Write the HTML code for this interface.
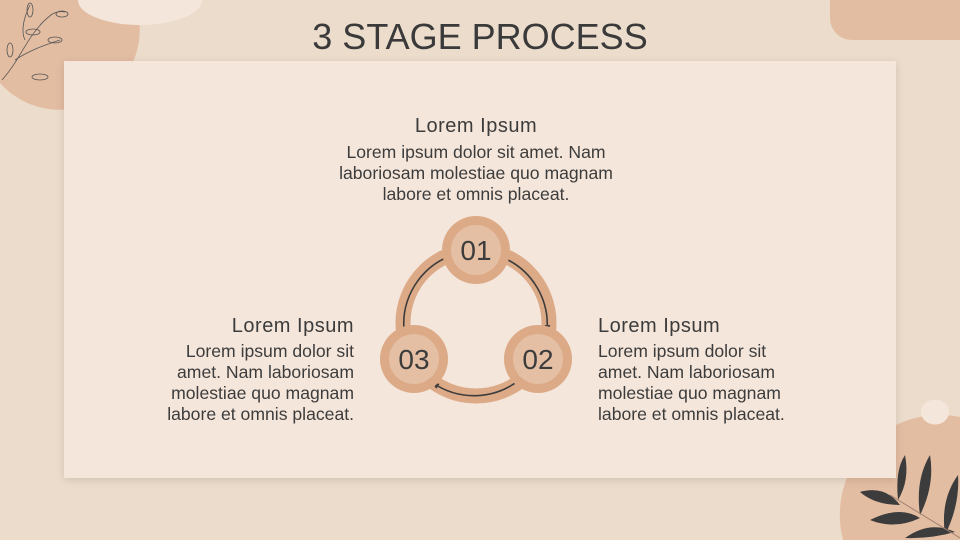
<!DOCTYPE html>
<html><head><meta charset="utf-8"><style>
html,body{margin:0;padding:0;width:960px;height:540px;overflow:hidden}
#w{position:relative;width:960px;height:540px;overflow:hidden;background:#ecdccb;font-family:"Liberation Sans",sans-serif}
.a{position:absolute}
.t{color:#3c3c3c}
h1{position:absolute;margin:0;top:16px;left:0;width:960px;text-align:center;font-weight:normal;font-size:36px;color:#3a3a3a}
.hd{font-size:20px;letter-spacing:0.5px}
.bd{font-size:17.6px;line-height:21px}
</style></head><body><div id="w">
<svg class="a" style="left:0;top:0" width="960" height="540">
<path d="M0 0 L134 0 A80 80 0 0 1 0 83 Z" fill="#e3bda2"/>
<path d="M78 0 L202 0 A62 25 0 0 1 78 0 Z" fill="#f5e6db"/>
<path d="M830 0 L960 0 L960 40 L852 40 A22 22 0 0 1 830 18 Z" fill="#e3bda2"/>
<path d="M843 540 A100 100 0 0 1 960 417 L960 540 Z" fill="#e3bda2"/>
<ellipse cx="935" cy="412" rx="14" ry="12.5" fill="#f5e6db"/>
<g fill="none" stroke="#555" stroke-width="0.8">
<path d="M2 80 C20 60 25 40 45 20 M15 60 C30 50 45 45 60 40 M25 40 C20 30 25 15 30 5 M40 25 C50 15 55 10 65 12"/>
<ellipse cx="40" cy="77" rx="8" ry="3"/><ellipse cx="55" cy="40" rx="7" ry="3"/><ellipse cx="30" cy="10" rx="3" ry="7"/><ellipse cx="62" cy="14" rx="6" ry="3"/><ellipse cx="10" cy="50" rx="3" ry="7"/><ellipse cx="33" cy="32" rx="7" ry="3"/>
</g>
<g transform="translate(860 450)" fill="#3c3c3c">
<path d="M0 42 Q25 35 40 55 Q15 55 0 42Z"/><path d="M10 70 Q40 55 60 68 Q35 80 10 70Z"/><path d="M45 88 Q70 70 95 82 Q70 89 45 88Z"/>
<path d="M38 50 Q35 20 45 5 Q50 30 38 50Z"/><path d="M60 65 Q55 30 70 5 Q75 35 60 65Z"/><path d="M85 85 Q80 50 98 25 Q100 55 85 85Z"/>
<path d="M30 45 L100 88" stroke="#a08070" stroke-width="1" fill="none"/>
</g>
</svg>
<h1>3 STAGE PROCESS</h1>
<div class="a" style="left:64px;top:61px;width:832px;height:417px;background:#f5e6db;box-shadow:0 2px 8px rgba(0,0,0,0.12)"></div>
<div class="a t hd" style="left:276px;top:115px;width:400px;text-align:center">Lorem Ipsum</div>
<div class="a t bd" style="left:256px;top:142px;width:440px;text-align:center">Lorem ipsum dolor sit amet. Nam<br>laboriosam molestiae quo magnam<br>labore et omnis placeat.</div>
<div class="a t hd" style="left:134px;top:315px;width:220px;text-align:right">Lorem Ipsum</div>
<div class="a t bd" style="left:114px;top:341px;width:240px;text-align:right">Lorem ipsum dolor sit<br>amet. Nam laboriosam<br>molestiae quo magnam<br>labore et omnis placeat.</div>
<div class="a t hd" style="left:598px;top:315px;width:220px">Lorem Ipsum</div>
<div class="a t bd" style="left:598px;top:341px;width:240px">Lorem ipsum dolor sit<br>amet. Nam laboriosam<br>molestiae quo magnam<br>labore et omnis placeat.</div>
<svg class="a" style="left:0;top:0" width="960" height="540">
<defs><marker id="m" markerWidth="8" markerHeight="8" refX="6" refY="4" orient="auto" markerUnits="userSpaceOnUse"><path d="M0 1 L7 4 L0 7Z" fill="#3c3c3c"/></marker></defs>
<circle cx="476" cy="323" r="73" fill="none" stroke="#dcaa87" stroke-width="15"/>
<path d="M504 258 A73 73 0 0 1 547 331" fill="none" stroke="#3c3c3c" stroke-width="1.6" marker-end="url(#m)"/>
<path d="M518 381 A73 73 0 0 1 433 383" fill="none" stroke="#3c3c3c" stroke-width="1.6" marker-end="url(#m)"/>
<path d="M404 330 A73 73 0 0 1 450 256" fill="none" stroke="#3c3c3c" stroke-width="1.6" marker-end="url(#m)"/>
<g font-family="Liberation Sans" font-size="28" fill="#3c3c3c" text-anchor="middle">
<circle cx="476" cy="250" r="34" fill="#dcaa87"/><circle cx="476" cy="250" r="25" fill="#e5bfa3"/><text x="476" y="260">01</text>
<circle cx="538" cy="359" r="34" fill="#dcaa87"/><circle cx="538" cy="359" r="25" fill="#e5bfa3"/><text x="538" y="369">02</text>
<circle cx="414" cy="359" r="34" fill="#dcaa87"/><circle cx="414" cy="359" r="25" fill="#e5bfa3"/><text x="414" y="369">03</text>
</g>
</svg>
</div></body></html>
